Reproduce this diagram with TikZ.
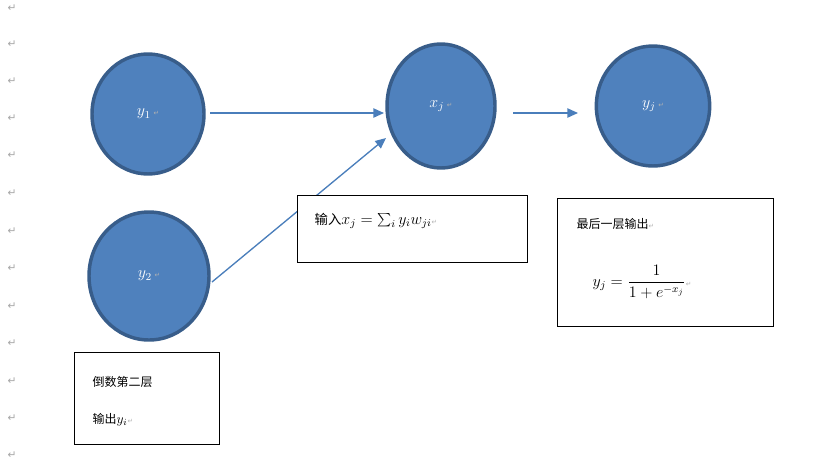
\documentclass[tikz,border=0pt]{standalone}
\usepackage{fontspec}
\newfontfamily\cjk{Noto Sans CJK SC}
\newfontfamily\djv{DejaVu Sans}
\usetikzlibrary{arrows.meta,shapes.geometric}
\definecolor{fillb}{HTML}{4F81BD}
\definecolor{edgeb}{HTML}{385D8A}
\definecolor{arr}{HTML}{4A7EBB}
\tikzset{
 neuron/.style={ellipse,draw=edgeb,line width=2.6pt,fill=fillb,text=white,font=\large,inner sep=0pt},
 conn/.style={arr,line width=1pt,-{Triangle[length=8pt,width=7pt]}},
 pm/.style={text=gray!70,font=\djv\footnotesize,inner sep=0pt}
}
\begin{document}
\begin{tikzpicture}[x=0.75pt,y=-0.75pt]
\useasboundingbox (0,0) rectangle (813,461);
\node[neuron,minimum width=84pt,minimum height=90pt] (y1) at (148,114) {$y_1$\,{\djv\tiny\color{gray!60}↵}};
\node[neuron,minimum width=81pt,minimum height=93pt] (xj) at (441,106) {$x_j$\,{\djv\tiny\color{gray!60}↵}};
\node[neuron,minimum width=85pt,minimum height=90pt] (yj) at (653,106) {$y_j$\,{\djv\tiny\color{gray!60}↵}};
\node[neuron,minimum width=90pt,minimum height=96pt] (y2) at (149,276) {$y_2$\,{\djv\tiny\color{gray!60}↵}};
\coordinate (a1s) at (210,113); \coordinate (a1e) at (384,113);
\coordinate (a2s) at (212,282); \coordinate (a2e) at (386,138);
\coordinate (a3s) at (513,113); \coordinate (a3e) at (578,113);
\draw[conn] (a1s) -- (a1e);
\draw[conn] (a2s) -- (a2e);
\draw[conn] (a3s) -- (a3e);
\draw[line width=0.6pt,fill=white] (297,195) rectangle (527,262);
\node[anchor=west,font=\large] (b1) at (310,221) {{\cjk\normalsize 输入}$x_j=\sum_i y_i w_{ji}${\djv\tiny\color{gray!60}↵}};
\draw[line width=0.6pt,fill=white] (557,198) rectangle (773,326);
\node[anchor=west] (b2a) at (572,224) {{\cjk\small 最后一层输出}{\djv\tiny\color{gray!60}↵}};
\node[anchor=west,font=\large] (b2b) at (588,282) {$\displaystyle y_j=\frac{1}{1+e^{-x_j}}${\djv\tiny\color{gray!60}↵}};
\draw[line width=0.6pt,fill=white] (74,352) rectangle (219,444);
\node[anchor=west] (b3a) at (88,382) {\cjk\small 倒数第二层};
\node[anchor=west] (b3b) at (88,420) {{\cjk\small 输出}$\large y_i${\djv\tiny\color{gray!60}↵}};
\foreach \i/\yy in {0/8,1/44,2/81,3/118,4/155,5/193,6/231,7/268,8/306,9/343,10/381,11/418,12/455}
  \node[pm] (pm\i) at (12,\yy) {↵};
\end{tikzpicture}
\end{document}
